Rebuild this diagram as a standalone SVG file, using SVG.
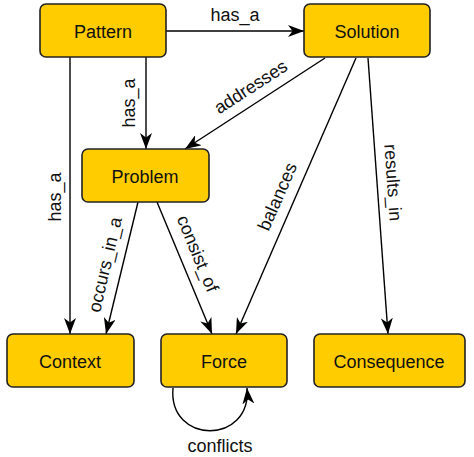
<svg xmlns="http://www.w3.org/2000/svg" width="474" height="457" viewBox="0 0 474 457">
<defs>
<marker id="arr" viewBox="0 0 16 12" refX="16" refY="6" markerWidth="16" markerHeight="12" markerUnits="userSpaceOnUse" orient="auto">
<path d="M0,0 L16,6 L0,12 L4.5,6 Z" fill="#000"/>
</marker>
<style>
.node rect{fill:#FFCC00;stroke:#222;stroke-width:1.6}
.node text{font-family:"Liberation Sans",Arial,sans-serif;font-size:18px;fill:#111;text-anchor:middle}
.edges path{fill:none;stroke:#000;stroke-width:1.4;marker-end:url(#arr)}
.lbl{font-family:"Liberation Sans",Arial,sans-serif;font-size:18px;fill:#111;text-anchor:middle}
</style>
</defs>
<rect width="474" height="457" fill="#fff"/>
<g class="edges">
<path d="M166,31 L304,31"/>
<path d="M70,57 L70,334"/>
<path d="M146,57 L146,149"/>
<path d="M325,58 L185,149"/>
<path d="M356,58 L236,334"/>
<path d="M368,58 L388,334"/>
<path d="M138,202 L106,334"/>
<path d="M157,202 L212,334"/>
<path d="M173,388 C168,445 252,445 247,388"/>
<text class="lbl" x="235" y="21">has_a</text>
<text class="lbl" transform="translate(135,103) rotate(-90)">has_a</text>
<text class="lbl" transform="translate(61,197) rotate(-90)">has_a</text>
<text class="lbl" transform="translate(254,92) rotate(-33)">addresses</text>
<text class="lbl" transform="translate(283,199) rotate(-66.3)">balances</text>
<text class="lbl" transform="translate(387,183) rotate(85.9)">results_in</text>
<text class="lbl" transform="translate(111,266) rotate(-76.8)">occurs_in_a</text>
<text class="lbl" transform="translate(192,256) rotate(67.4)">consist_of</text>
<text class="lbl" x="220" y="452">conflicts</text>
</g>
<g id="pattern" class="node"><rect x="40" y="4" width="126" height="53" rx="6"/><text x="103" y="38">Pattern</text></g>
<g id="solution" class="node"><rect x="304" y="4" width="126" height="53" rx="6"/><text x="367" y="38">Solution</text></g>
<g id="problem" class="node"><rect x="82" y="149" width="127" height="53" rx="6"/><text x="145" y="183">Problem</text></g>
<g id="context" class="node"><rect x="7" y="334" width="127" height="53" rx="6"/><text x="70" y="368">Context</text></g>
<g id="force" class="node"><rect x="161" y="334" width="126" height="53" rx="6"/><text x="224" y="368">Force</text></g>
<g id="consequence" class="node"><rect x="314" y="334" width="151" height="53" rx="6"/><text x="389" y="368">Consequence</text></g>
</svg>
